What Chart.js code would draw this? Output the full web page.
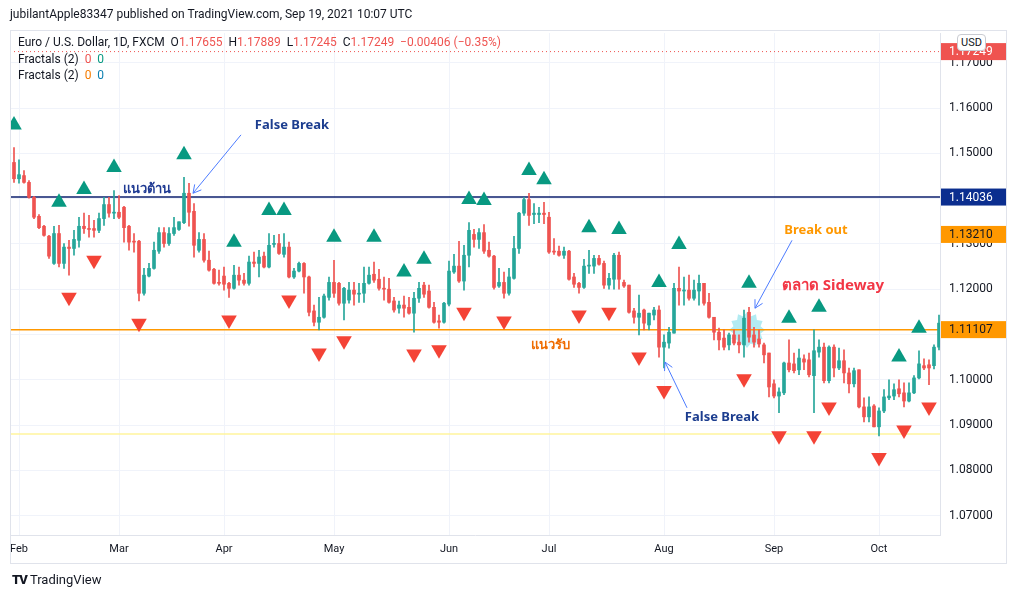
<!DOCTYPE html>
<html>
<head>
<meta charset="utf-8">
<script src="https://cdn.jsdelivr.net/npm/chart.js@4.4.0/dist/chart.umd.min.js"></script>
<style>
  body { margin: 0; background: #fff; font-family: Roboto, "Liberation Sans", Arial, sans-serif; color: #131722; }
  #wrap { position: relative; width: 1012px; height: 598px; overflow: hidden; }
  #chart { position: absolute; left: 0; top: 0; }
  #frame { position: absolute; left: 10px; top: 30px; width: 995px; height: 532px; border: 1px solid #e0e3eb; pointer-events: none; }
  .t { position: absolute; white-space: nowrap; font-size: 12px; line-height: 14px; }
  .r { color: #ef5350; }
  .g { color: #089981; }
  .o { color: #f57c00; }
  .b { color: #0b7fb0; }
  #usd { position: absolute; left: 957px; top: 34px; padding: 1px 3px; font-size: 11px; border: 1px solid #c9cbd1; border-radius: 4px; background: #fff; }
</style>
</head>
<body>
<div id="wrap">
  <canvas id="chart" width="1012" height="598"></canvas>
  <div id="frame"></div>
  <div class="t" style="left:10px;top:7px;">jubilantApple83347 published on TradingView.com, Sep 19, 2021 10:07 UTC</div>
  <div class="t" style="left:18px;top:35px;">Euro / U.S. Dollar, 1D, FXCM&nbsp; O<span class="r">1.17655</span>&nbsp; H<span class="r">1.17889</span>&nbsp; L<span class="r">1.17245</span>&nbsp; C<span class="r">1.17249</span>&nbsp; <span class="r">−0.00406 (−0.35%)</span></div>
  <div class="t" style="left:18px;top:52px;">Fractals (2)&nbsp; <span class="r">0</span>&nbsp; <span class="g">0</span></div>
  <div class="t" style="left:18px;top:68px;">Fractals (2)&nbsp; <span class="o">0</span>&nbsp; <span class="b">0</span></div>
  <div id="usd">USD</div>
  <div class="t" style="left:12px;top:573px;font-size:13px;"><b style="font-weight:900;letter-spacing:-1px;">TV</b> TradingView</div>
</div>

<script>
// ===== DATA (EUR/USD daily, bar index 0 = first trading day of Feb) =====
const firstBar = -2;

const opens = [
  1.1429,1.1480,1.1444,1.1451,1.1436,1.1403,1.1361,1.1339,1.1317,1.1257,
  1.1323,1.1257,1.1293,1.1290,1.1308,1.1339,1.1334,1.1334,1.1330,1.1356,
  1.1387,1.1368,1.1370,1.1381,1.1339,1.1306,1.1306,1.1191,1.1229,1.1246,
  1.1284,1.1325,1.1301,1.1323,1.1332,1.1347,1.1412,1.1372,1.1286,1.1310,
  1.1264,1.1244,1.1215,1.1229,1.1213,1.1202,1.1231,1.1220,1.1213,1.1260,
  1.1257,1.1273,1.1249,1.1299,1.1301,1.1277,1.1293,1.1227,1.1240,1.1257,
  1.1227,1.1152,1.1127,1.1138,1.1182,1.1215,1.1213,1.1169,1.1176,1.1198,
  1.1189,1.1191,1.1213,1.1233,1.1222,1.1202,1.1200,1.1174,1.1158,1.1165,
  1.1160,1.1147,1.1180,1.1209,1.1196,1.1160,1.1130,1.1127,1.1167,1.1238,
  1.1251,1.1218,1.1275,1.1321,1.1310,1.1325,1.1286,1.1273,1.1207,1.1215,
  1.1191,1.1224,1.1290,1.1368,1.1398,1.1365,1.1365,1.1368,1.1359,1.1284,
  1.1284,1.1275,1.1284,1.1227,1.1213,1.1204,1.1251,1.1251,1.1268,1.1257,
  1.1209,1.1222,1.1275,1.1215,1.1209,1.1152,1.1138,1.1154,1.1121,1.1143,
  1.1154,1.1072,1.1081,1.1103,1.1202,1.1196,1.1198,1.1180,1.1196,1.1213,
  1.1171,1.1138,1.1105,1.1092,1.1077,1.1099,1.1083,1.1077,1.1149,1.1099,
  1.1090,1.1077,1.1059,1.0991,1.0964,1.0971,1.1037,1.1035,1.1022,1.1046,
  1.1044,1.1009,1.1061,1.1072,1.0998,1.1072,1.1026,1.1042,1.1015,1.0991,
  1.1022,1.0940,1.0918,1.0942,1.0896,1.0931,1.0960,1.0964,1.0980,1.0971,
  1.0953,1.0971,1.1004,1.1031,1.1033,1.1031,1.1072
];
const highs = [
  1.1484,1.1513,1.1486,1.1462,1.1440,1.1405,1.1365,1.1341,1.1319,1.1339,
  1.1341,1.1301,1.1308,1.1330,1.1359,1.1368,1.1363,1.1352,1.1368,1.1403,
  1.1403,1.1418,1.1407,1.1383,1.1341,1.1323,1.1308,1.1246,1.1257,1.1304,
  1.1336,1.1336,1.1336,1.1359,1.1349,1.1447,1.1434,1.1389,1.1325,1.1323,
  1.1284,1.1246,1.1242,1.1249,1.1215,1.1253,1.1249,1.1235,1.1273,1.1282,
  1.1286,1.1282,1.1323,1.1319,1.1321,1.1323,1.1304,1.1246,1.1260,1.1259,
  1.1229,1.1165,1.1182,1.1189,1.1227,1.1264,1.1215,1.1204,1.1215,1.1215,
  1.1213,1.1249,1.1249,1.1260,1.1244,1.1227,1.1224,1.1182,1.1174,1.1185,
  1.1182,1.1193,1.1215,1.1215,1.1209,1.1171,1.1143,1.1171,1.1262,1.1277,
  1.1306,1.1297,1.1347,1.1332,1.1334,1.1343,1.1304,1.1275,1.1246,1.1238,
  1.1246,1.1317,1.1370,1.1403,1.1412,1.1389,1.1381,1.1392,1.1370,1.1312,
  1.1295,1.1293,1.1286,1.1235,1.1215,1.1266,1.1286,1.1275,1.1275,1.1262,
  1.1235,1.1279,1.1282,1.1220,1.1209,1.1158,1.1187,1.1156,1.1147,1.1160,
  1.1163,1.1099,1.1116,1.1213,1.1249,1.1227,1.1231,1.1220,1.1231,1.1213,
  1.1191,1.1138,1.1114,1.1110,1.1103,1.1110,1.1099,1.1154,1.1160,1.1116,
  1.1110,1.1081,1.1059,1.1000,1.0982,1.1039,1.1088,1.1059,1.1068,1.1055,
  1.1059,1.1110,1.1088,1.1081,1.1075,1.1077,1.1070,1.1066,1.1026,1.1026,
  1.1022,1.0960,1.0962,1.0945,1.0938,1.0978,1.1000,1.0991,1.1000,1.0993,
  1.0993,1.1009,1.1064,1.1046,1.1044,1.1077,1.1143
];
const lows = [
  1.1427,1.1436,1.1434,1.1434,1.1401,1.1356,1.1334,1.1317,1.1268,1.1255,
  1.1249,1.1246,1.1231,1.1275,1.1293,1.1323,1.1315,1.1315,1.1325,1.1341,
  1.1359,1.1356,1.1356,1.1304,1.1286,1.1282,1.1174,1.1187,1.1227,1.1244,
  1.1279,1.1293,1.1297,1.1319,1.1330,1.1345,1.1339,1.1271,1.1282,1.1260,
  1.1240,1.1211,1.1209,1.1198,1.1182,1.1200,1.1209,1.1209,1.1209,1.1249,
  1.1227,1.1247,1.1247,1.1293,1.1277,1.1271,1.1225,1.1224,1.1238,1.1191,
  1.1141,1.1119,1.1110,1.1136,1.1176,1.1182,1.1165,1.1132,1.1169,1.1165,
  1.1171,1.1171,1.1211,1.1215,1.1198,1.1176,1.1169,1.1149,1.1147,1.1138,
  1.1145,1.1105,1.1171,1.1182,1.1158,1.1125,1.1114,1.1125,1.1163,1.1235,
  1.1215,1.1198,1.1249,1.1293,1.1290,1.1279,1.1271,1.1200,1.1204,1.1180,
  1.1187,1.1222,1.1279,1.1363,1.1341,1.1345,1.1347,1.1345,1.1279,1.1277,
  1.1273,1.1268,1.1220,1.1204,1.1191,1.1202,1.1235,1.1235,1.1253,1.1202,
  1.1200,1.1200,1.1200,1.1204,1.1147,1.1125,1.1099,1.1110,1.1110,1.1132,
  1.1050,1.1026,1.1070,1.1103,1.1165,1.1165,1.1176,1.1176,1.1165,1.1165,
  1.1136,1.1088,1.1066,1.1066,1.1066,1.1077,1.1059,1.1050,1.1083,1.1072,
  1.1072,1.1037,1.0962,1.0960,1.0927,1.0967,1.1017,1.1015,1.1011,1.1022,
  1.1006,1.0927,1.1050,1.0993,1.0993,1.1006,1.1022,1.0993,1.0971,1.0984,
  1.0938,1.0907,1.0907,1.0896,1.0876,1.0927,1.0956,1.0956,1.0962,1.0940,
  1.0951,1.0969,1.1002,1.1022,1.0989,1.1024,1.1066
];
const closes = [
  1.1478,1.1444,1.1453,1.1436,1.1403,1.1359,1.1336,1.1319,1.1273,1.1323,
  1.1257,1.1293,1.1290,1.1310,1.1339,1.1334,1.1332,1.1330,1.1356,1.1387,
  1.1368,1.1370,1.1359,1.1336,1.1304,1.1304,1.1191,1.1231,1.1246,1.1286,
  1.1325,1.1301,1.1323,1.1336,1.1349,1.1412,1.1370,1.1297,1.1310,1.1264,
  1.1242,1.1213,1.1213,1.1211,1.1202,1.1231,1.1220,1.1213,1.1260,1.1257,
  1.1271,1.1249,1.1297,1.1301,1.1279,1.1293,1.1227,1.1240,1.1257,1.1227,
  1.1149,1.1127,1.1138,1.1185,1.1215,1.1191,1.1169,1.1202,1.1198,1.1189,
  1.1191,1.1213,1.1231,1.1220,1.1202,1.1200,1.1171,1.1154,1.1165,1.1158,
  1.1147,1.1180,1.1202,1.1189,1.1160,1.1127,1.1127,1.1169,1.1240,1.1251,
  1.1218,1.1275,1.1330,1.1310,1.1325,1.1284,1.1273,1.1204,1.1215,1.1191,
  1.1227,1.1290,1.1368,1.1398,1.1363,1.1368,1.1368,1.1365,1.1282,1.1282,
  1.1275,1.1284,1.1222,1.1211,1.1204,1.1251,1.1253,1.1268,1.1255,1.1209,
  1.1224,1.1275,1.1222,1.1207,1.1149,1.1138,1.1147,1.1125,1.1147,1.1154,
  1.1072,1.1083,1.1105,1.1202,1.1196,1.1198,1.1180,1.1198,1.1213,1.1169,
  1.1138,1.1105,1.1088,1.1072,1.1099,1.1081,1.1077,1.1136,1.1094,1.1083,
  1.1079,1.1055,1.0984,1.0964,1.0973,1.1037,1.1022,1.1020,1.1048,1.1039,
  1.1011,1.1064,1.1072,1.0998,1.1072,1.1026,1.1042,1.1015,1.0991,1.1020,
  1.0940,1.0918,1.0940,1.0896,1.0931,1.0962,1.0964,1.0978,1.0969,1.0953,
  1.0971,1.1004,1.1035,1.1026,1.1026,1.1072,1.1125
];

// fractal markers (bar index, price level of the marker)
const upIdx   = [-1,8,13,19,33,43,50,53,63,71,77,81,90,93,102,105,114,120,128,132,146,154,160,176,180];
const upVal   = [1.1563,1.1392,1.1420,1.1469,1.1497,1.1304,1.1374,1.1374,1.1315,1.1315,1.1238,1.1266,1.1398,
                 1.1396,1.1462,1.1442,1.1336,1.1332,1.1215,1.1299,1.1213,1.1136,1.1160,1.1050,1.1114];
const downIdx = [10,15,24,42,54,60,65,79,84,89,97,112,118,124,129,145,152,159,162,172,177,182];
const downVal = [1.1182,1.1264,1.1125,1.1132,1.1176,1.1059,1.1086,1.1057,1.1066,1.1149,1.1130,
                 1.1143,1.1149,1.1050,1.0976,1.1002,1.0876,1.0876,1.0940,1.0828,1.0889,1.0940];

// axis ticks
const monthTicks  = [0, 20, 41, 63, 86, 106, 129, 151, 172];
const monthLabels = ["Feb", "Mar", "Apr", "May", "Jun", "Jul", "Aug", "Sep", "Oct"];
const priceTicks  = [1.07, 1.08, 1.09, 1.10, 1.11, 1.12, 1.13, 1.14, 1.15, 1.16, 1.17];

// drawn levels
const resistance = 1.14036;
const support    = 1.11107;
const lowerLine  = 1.0880;
const lastPrice  = 1.17249;
const breakLevel = 1.13210;

// annotations in (bar index, price)
const texts = [
  { t: "False Break",  x: 54.6,  y: 1.1563, c: "#1c3d8f", f: "bold 13px" },
  { t: "แนวต้าน",      x: 25.6,  y: 1.1420, c: "#1f3a93", f: "bold 13px" },
  { t: "แนวรับ",       x: 106.2, y: 1.1075, c: "#ef6c00", f: "bold 13px" },
  { t: "Break out",    x: 159.4, y: 1.1330, c: "#ff9800", f: "bold 13px" },
  { t: "ตลาด Sideway", x: 162.8, y: 1.1207, c: "#f23645", f: "bold 15px" },
  { t: "False Break",  x: 140.6, y: 1.0916, c: "#1c3d8f", f: "bold 13px" }
];
const arrows = [
  { x1: 44.4,  y1: 1.1541, x2: 34.8,  y2: 1.1412 },
  { x1: 154.6, y1: 1.1308, x2: 147.2, y2: 1.1158 },
  { x1: 133.6, y1: 1.0938, x2: 129.2, y2: 1.1039 }
];
const burst = { x: 145.6, y: 1.1110 };

// ===== BUILD DATASETS =====
const UP = "#26a69a", DOWN = "#ef5350";
const barX = (i) => i + firstBar;
const candleColors = opens.map((o, i) => (closes[i] >= o ? UP : DOWN));
const bodies = opens.map((o, i) => ({ x: barX(i), y: [o, closes[i]] }));
const wicks = lows.map((l, i) => ({ x: barX(i), y: [l, highs[i]] }));
const hline = (v) => [{ x: -5, y: v }, { x: 190, y: v }];

const FONT = "'Noto Sans', 'DejaVu Sans', sans-serif";

const overlay = {
  id: "overlay",
  beforeDatasetsDraw(chart) {
    // light starburst behind the breakout candles
    const { ctx, scales: { x, y } } = chart;
    const cx = x.getPixelForValue(burst.x), cy = y.getPixelForValue(burst.y);
    ctx.save();
    ctx.fillStyle = "#b2ebf2";
    ctx.beginPath();
    const n = 12;
    for (let k = 0; k < n * 2; k++) {
      const r = k % 2 === 0 ? 18 : 14;
      const a = (Math.PI * k) / n;
      const px = cx + r * Math.cos(a), py = cy + r * Math.sin(a);
      if (k === 0) ctx.moveTo(px, py); else ctx.lineTo(px, py);
    }
    ctx.closePath();
    ctx.fill();
    ctx.restore();
  },
  afterDraw(chart) {
    const { ctx, scales: { x, y } } = chart;
    ctx.save();
    // arrows
    ctx.strokeStyle = "#4d7cff";
    ctx.lineWidth = 1;
    arrows.forEach((a) => {
      const x1 = x.getPixelForValue(a.x1), y1 = y.getPixelForValue(a.y1);
      const x2 = x.getPixelForValue(a.x2), y2 = y.getPixelForValue(a.y2);
      const ang = Math.atan2(y2 - y1, x2 - x1);
      ctx.beginPath();
      ctx.moveTo(x1, y1);
      ctx.lineTo(x2, y2);
      ctx.moveTo(x2 - 9 * Math.cos(ang - 0.5), y2 - 9 * Math.sin(ang - 0.5));
      ctx.lineTo(x2, y2);
      ctx.lineTo(x2 - 9 * Math.cos(ang + 0.5), y2 - 9 * Math.sin(ang + 0.5));
      ctx.stroke();
    });
    // texts
    ctx.textAlign = "center";
    ctx.textBaseline = "middle";
    texts.forEach((t) => {
      ctx.font = t.f + " " + FONT;
      ctx.fillStyle = t.c;
      ctx.fillText(t.t, x.getPixelForValue(t.x), y.getPixelForValue(t.y));
    });
    // price axis labels
    const labels = [
      { v: lastPrice, bg: "#ef5350", fg: "#ffffff" },
      { v: resistance, bg: "#0b2e8f", fg: "#ffffff" },
      { v: breakLevel, bg: "#ff9800", fg: "#131722" },
      { v: support, bg: "#ff9800", fg: "#131722" }
    ];
    ctx.font = "12px Roboto, 'Liberation Sans', sans-serif";
    ctx.textAlign = "left";
    labels.forEach((l) => {
      const py = y.getPixelForValue(l.v);
      ctx.fillStyle = l.bg;
      ctx.fillRect(y.left + 1, py - 8.5, 65, 17);
      ctx.fillStyle = l.fg;
      ctx.fillText(l.v.toFixed(5), y.left + 9, py + 0.5);
    });
    ctx.restore();
  }
};

new Chart(document.getElementById("chart"), {
  type: "bar",
  data: {
    datasets: [
      { type: "line", data: hline(lowerLine), borderColor: "#fff59d", borderWidth: 1.5, pointRadius: 0, order: 6 },
      { type: "line", data: hline(lastPrice), borderColor: "#ef5350", borderWidth: 1, borderDash: [1, 3], pointRadius: 0, order: 6 },
      { type: "line", data: hline(resistance), borderColor: "#0d1f6e", borderWidth: 1.5, pointRadius: 0, order: 6 },
      { type: "line", data: hline(support), borderColor: "#ff9800", borderWidth: 1.5, pointRadius: 0, order: 6 },
      { data: wicks, backgroundColor: candleColors, barThickness: 1, grouped: false, borderWidth: 0, order: 5 },
      { data: bodies, backgroundColor: candleColors, barThickness: 3, minBarLength: 1, grouped: false, borderWidth: 0, order: 4 },
      {
        type: "scatter", data: upIdx.map((v, i) => ({ x: v, y: upVal[i] })),
        pointStyle: "triangle", pointRadius: 9, pointBackgroundColor: "#089981", pointBorderWidth: 0, order: 1
      },
      {
        type: "scatter", data: downIdx.map((v, i) => ({ x: v, y: downVal[i] })),
        pointStyle: "triangle", pointRadius: 9, pointRotation: 180, pointBackgroundColor: "#f44336", pointBorderWidth: 0, order: 1
      }
    ]
  },
  options: {
    responsive: false,
    animation: false,
    events: [],
    layout: { padding: { top: 33, left: 10, right: 0, bottom: 35 } },
    plugins: { legend: { display: false }, tooltip: { enabled: false } },
    scales: {
      x: {
        type: "linear",
        min: -1.8,
        max: 184.2,
        offset: false,
        afterFit: (s) => { s.height = 28; },
        afterBuildTicks: (s) => { s.ticks = monthTicks.map((v) => ({ value: v })); },
        ticks: {
          autoSkip: false, maxRotation: 0, padding: 8, color: "#131722",
          font: { size: 11, family: "Roboto, 'Liberation Sans', sans-serif" },
          callback: (v) => monthLabels[monthTicks.indexOf(v)]
        },
        grid: { color: "#f0f3fa", offset: false, drawTicks: false },
        border: { color: "#e0e3eb" }
      },
      y: {
        position: "right",
        min: 1.0657,
        max: 1.1766,
        beginAtZero: false,
        afterFit: (s) => { s.width = 72; },
        afterBuildTicks: (s) => { s.ticks = priceTicks.map((v) => ({ value: v })); },
        ticks: {
          padding: 9, color: "#131722",
          font: { size: 12, family: "Roboto, 'Liberation Sans', sans-serif" },
          callback: (v) => v.toFixed(5)
        },
        grid: { color: "#f0f3fa", drawTicks: false },
        border: { color: "#e0e3eb" }
      }
    }
  },
  plugins: [overlay]
});
</script>
</body>
</html>
